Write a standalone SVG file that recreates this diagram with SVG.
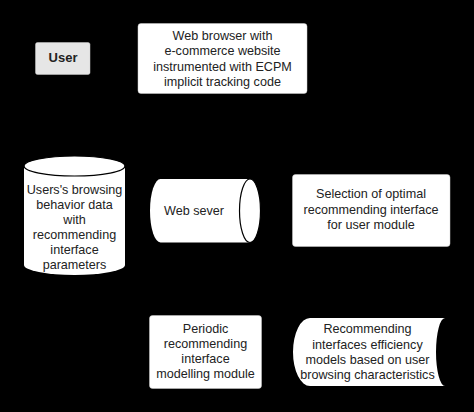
<svg xmlns="http://www.w3.org/2000/svg" width="474" height="412" viewBox="0 0 474 412">
<style>
.t{font-family:"Liberation Sans",Arial,sans-serif;font-size:12.6px;fill:#222;text-anchor:middle}
.b{font-weight:bold;font-size:13px}
.box{fill:#fff;stroke:#ccc;stroke-width:0.5}
</style>
<rect width="474" height="412" fill="#000"/>
<g id="user">
<rect x="35.5" y="42.5" width="54.5" height="32" rx="2" fill="#e6e6e6" stroke="#ccc" stroke-width="0.5"/>
<text class="t b" x="63" y="62">User</text>
</g>
<g id="browser">
<rect class="box" x="138" y="23.5" width="169" height="70" rx="3"/>
<text class="t" x="222.5" y="39.5">Web browser with</text>
<text class="t" x="222.5" y="55">e-commerce website</text>
<text class="t" x="222.5" y="70.5">instrumented with ECPM</text>
<text class="t" x="222.5" y="86">implicit tracking code</text>
</g>
<g id="database">
<path d="M24 166 L24 265 A50.5 10 0 0 0 125 265 L125 166 Z" fill="#fff"/>
<ellipse cx="74.5" cy="166" rx="50.5" ry="10" fill="#fff" stroke="#000" stroke-width="1.2"/>
<text class="t" x="74.5" y="194">Users's browsing</text>
<text class="t" x="74.5" y="209">behavior data</text>
<text class="t" x="74.5" y="224">with</text>
<text class="t" x="74.5" y="239">recommending</text>
<text class="t" x="74.5" y="254">interface</text>
<text class="t" x="74.5" y="269">parameters</text>
</g>
<g id="webserver">
<path d="M160.5 179 L250 179 L250 242.5 L160.5 242.5 A10.5 31.75 0 0 1 160.5 179 Z" fill="#fff"/>
<ellipse cx="250" cy="210.75" rx="10.5" ry="31.75" fill="#fff" stroke="#000" stroke-width="1.2"/>
<text class="t" x="194" y="214.5">Web sever</text>
</g>
<g id="selection">
<rect class="box" x="292.5" y="174.5" width="157.5" height="72" rx="3"/>
<text class="t" x="371" y="198">Selection of optimal</text>
<text class="t" x="371" y="213.5">recommending interface</text>
<text class="t" x="371" y="229">for user module</text>
</g>
<g id="periodic">
<rect class="box" x="149.5" y="315.5" width="112" height="73" rx="3"/>
<text class="t" x="205.5" y="332.5">Periodic</text>
<text class="t" x="205.5" y="348">recommending</text>
<text class="t" x="205.5" y="363">interface</text>
<text class="t" x="205.5" y="378">modelling module</text>
</g>
<g id="models">
<path d="M310 318 L445 318 A9 34 0 0 0 445 386 L310 386 A17 34 0 0 1 310 318 Z" fill="#fff"/>
<text class="t" x="367.5" y="333">Recommending</text>
<text class="t" x="367.5" y="348.5">interfaces efficiency</text>
<text class="t" x="367.5" y="363.5">models based on user</text>
<text class="t" x="367.5" y="378.5">browsing characteristics</text>
</g>
<g id="connectors"></g>
</svg>
